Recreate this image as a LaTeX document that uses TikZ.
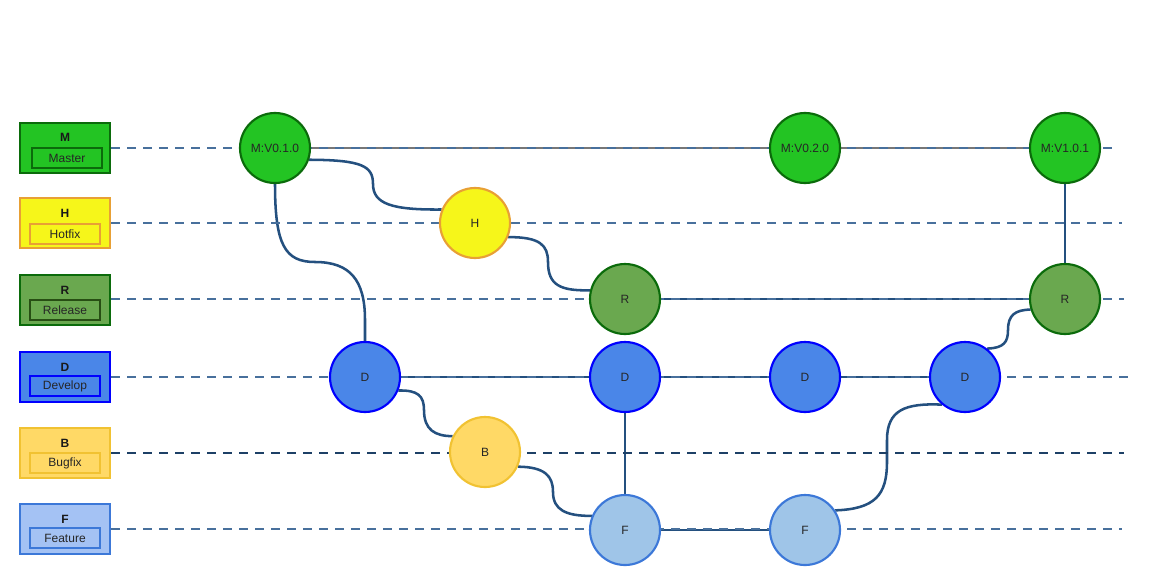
\documentclass[tikz,border=0pt]{standalone}
\usepackage{fontspec}
\setmainfont{Liberation Sans}
\usetikzlibrary{backgrounds}
\definecolor{lane}{HTML}{48709C}
\definecolor{conn}{HTML}{24507F}
\definecolor{mgray}{HTML}{777777}
\definecolor{mfill}{HTML}{23C423}
\definecolor{mdraw}{HTML}{0B6B0B}
\definecolor{hfill}{HTML}{F6F61A}
\definecolor{hdraw}{HTML}{E8A035}
\definecolor{rfill}{HTML}{6AA84F}
\definecolor{rdraw}{HTML}{0B6B0B}
\definecolor{rinner}{HTML}{274E13}
\definecolor{dfill}{HTML}{4A86E8}
\definecolor{ddraw}{HTML}{0000FF}
\definecolor{bfill}{HTML}{FFD966}
\definecolor{bdraw}{HTML}{F1C232}
\definecolor{ffill}{HTML}{A4C2F4}
\definecolor{fnode}{HTML}{9FC5E8}
\definecolor{fdraw}{HTML}{3C78D8}
\tikzset{
  commit/.style={circle, minimum size=70*0.75pt, inner sep=0pt, line width=1.6pt, font=\fontsize{9}{10}\selectfont, text=black!85},
  legbox/.style={rectangle, minimum width=90*0.75pt, minimum height=50*0.75pt, inner sep=0pt, line width=1.8pt},
  leginner/.style={rectangle, minimum width=70*0.75pt, minimum height=20*0.75pt, inner sep=0pt, line width=1.8pt, font=\fontsize{9}{10}\selectfont, text=black!85},
  legtitle/.style={font=\bfseries\fontsize{9}{10}\selectfont, inner sep=0pt, text=black!90},
  laneline/.style={draw=lane, line width=2.1pt, dash pattern=on 6.5pt off 5.5pt},
  link/.style={draw=conn, line width=1.9pt},
  mlink/.style={draw=mgray, line width=1.6pt},
}
\begin{document}
\begin{tikzpicture}[x=0.75pt,y=-0.75pt]
\useasboundingbox (0,0) rectangle (1150,586);
% legend
\node[legbox, fill=mfill, draw=mdraw] (LM) at (65,148) {};
\node[legtitle] (LMt) at (65,137) {M};
\node[leginner, draw=mdraw] (LMi) at (67,158) {Master};
\node[legbox, fill=hfill, draw=hdraw] (LH) at (65,223) {};
\node[legtitle] (LHt) at (65,213) {H};
\node[leginner, draw=hdraw] (LHi) at (65,234) {Hotfix};
\node[legbox, fill=rfill, draw=rdraw] (LR) at (65,300) {};
\node[legtitle] (LRt) at (65,290) {R};
\node[leginner, draw=rinner] (LRi) at (65,310) {Release};
\node[legbox, fill=dfill, draw=ddraw] (LD) at (65,377) {};
\node[legtitle] (LDt) at (65,367) {D};
\node[leginner, draw=ddraw] (LDi) at (65,386) {Develop};
\node[legbox, fill=bfill, draw=bdraw] (LB) at (65,453) {};
\node[legtitle] (LBt) at (65,443) {B};
\node[leginner, draw=bdraw] (LBi) at (65,463) {Bugfix};
\node[legbox, fill=ffill, draw=fdraw] (LF) at (65,529) {};
\node[legtitle] (LFt) at (65,519) {F};
\node[leginner, draw=fdraw] (LFi) at (65,538) {Feature};
% commits
\node[commit, fill=mfill, draw=mdraw] (M0) at (275,148) {M:V0.1.0};
\node[commit, fill=mfill, draw=mdraw] (M2) at (805,148) {M:V0.2.0};
\node[commit, fill=mfill, draw=mdraw] (M3) at (1065,148) {M:V1.0.1};
\node[commit, fill=hfill, draw=hdraw] (H1) at (475,223) {H};
\node[commit, fill=rfill, draw=rdraw] (R1) at (625,299) {R};
\node[commit, fill=rfill, draw=rdraw] (R2) at (1065,299) {R};
\node[commit, fill=dfill, draw=ddraw] (D1) at (365,377) {D};
\node[commit, fill=dfill, draw=ddraw] (D2) at (625,377) {D};
\node[commit, fill=dfill, draw=ddraw] (D3) at (805,377) {D};
\node[commit, fill=dfill, draw=ddraw] (D4) at (965,377) {D};
\node[commit, fill=bfill, draw=bdraw] (B1) at (485,452) {B};
\node[commit, fill=fnode, draw=fdraw] (F1) at (625,530) {F};
\node[commit, fill=fnode, draw=fdraw] (F2) at (805,530) {F};
% lane end points
\coordinate (EM) at (1112,148);
\coordinate (EH) at (1122,223);
\coordinate (ER) at (1124,299);
\coordinate (ED) at (1128,377);
\coordinate (EB) at (1124,453);
\coordinate (EF) at (1122,529);
\begin{scope}[on background layer]
% connectors
\draw[mlink] (M0.east) -- (M2.west);
\draw[mlink] (M2.east) -- (M3.west);
\draw[link] (R1.east) -- (R2.west);
\draw[link] (D1.east) -- (D2.west);
\draw[link] (D2.east) -- (D3.west);
\draw[link] (D3.east) -- (D4.west);
\draw[link] (F1.east) -- (F2.west);
\draw[link] (D2.south) -- (F1.north);
\draw[link] (R2.north) -- (M3.south);
\draw[link] (M0.-19) .. controls (362,160) and (373,166) .. (373,184) .. controls (373,204) and (392,210) .. (H1.158);
\draw[link] (M0.south) .. controls (275,245) and (285,262) .. (315,262) .. controls (350,262) and (365,280) .. (365,320) -- (D1.north);
\draw[link] (H1.-23) .. controls (540,237) and (548,245) .. (548,262) .. controls (548,285) and (560,291) .. (R1.166);
\draw[link] (D1.-22) .. controls (418,390) and (424,396) .. (424,410) .. controls (424,430) and (435,436) .. (B1.154);
\draw[link] (B1.-24) .. controls (545,467) and (553,476) .. (553,492) .. controls (553,510) and (566,516) .. (F1.157);
\draw[link] (F2.33) .. controls (875,509) and (887,495) .. (887,462) -- (887,440) .. controls (887,410) and (905,403) .. (D4.230);
\draw[link] (D4.52) .. controls (1004,348) and (1008,342) .. (1008,330) .. controls (1008,315) and (1015,310) .. (R2.197);
% lanes
\draw[laneline] (LM.east) -- (EM);
\draw[laneline] (LH.east) -- (EH);
\draw[laneline] (LR.east |- ER) -- (ER);
\draw[laneline] (LD.east) -- (ED);
\draw[laneline, draw=conn!80!black] (LB.east) -- (EB);
\draw[laneline] (LF.east) -- (EF);
\end{scope}
\end{tikzpicture}
\end{document}
